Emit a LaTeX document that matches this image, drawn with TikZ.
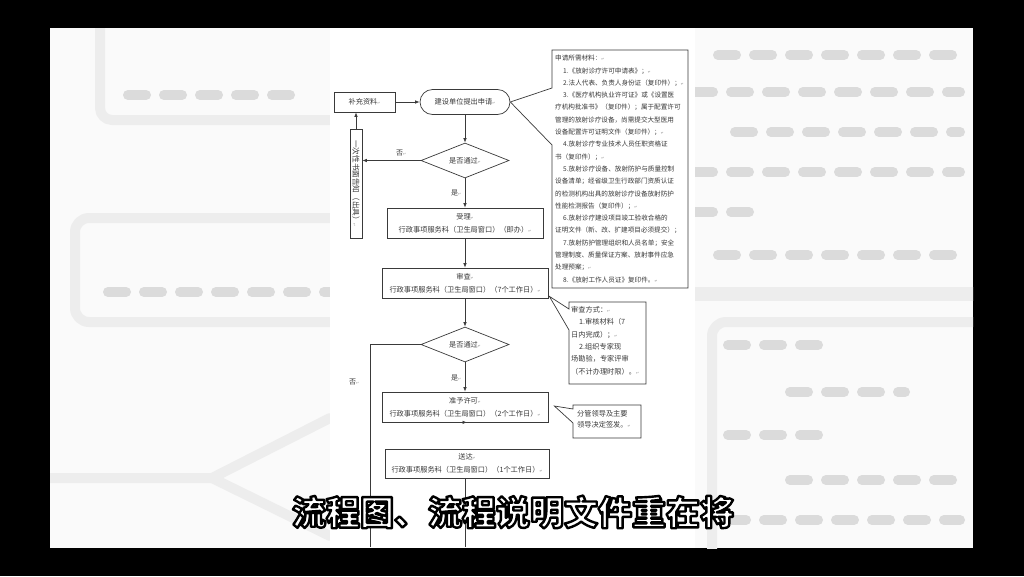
\documentclass[tikz,border=0pt]{standalone}
\usepackage{fontspec}
\usepackage{graphicx}
\newfontfamily\cjk{Noto Sans CJK SC}
\newfontfamily\dvs{DejaVu Sans}
\usetikzlibrary{shapes.geometric,arrows.meta}
\definecolor{ln}{HTML}{3A3A3A}
\definecolor{tx}{HTML}{383838}
\newcommand\pmk{{\dvs\fontsize{3.5}{3.5}\selectfont\textcolor{gray}{↵}}}
\newcommand\ind{\hspace*{8pt}}
\newcommand\outl[1]{\special{pdf:literal direct 2 Tr 2.4 w 0 0 0 RG 1 j}#1\special{pdf:literal direct 0 Tr}}
\begin{document}
\begin{tikzpicture}[x=1pt,y=-1pt,
  box/.style={draw=ln,line width=0.7pt,fill=white,inner sep=0pt,align=center,text=tx,font=\cjk\fontsize{7.2}{13}\selectfont},
  dia/.style={box,diamond,aspect=2.5,minimum width=88pt,minimum height=35pt},
  arr/.style={draw=ln,line width=0.7pt,-{Latex[length=4.5pt,width=3.5pt]}},
  con/.style={draw=ln,line width=0.7pt},
  call/.style={draw=ln,line width=0.7pt,fill=white,line join=miter},
  ctext/.style={inner sep=0pt,align=left,text=tx,anchor=north west},
  lbl/.style={text=tx,font=\cjk\fontsize{7}{8}\selectfont,inner sep=0pt},
  blob/.style={line width=10pt,line cap=round,draw=black!14,dash pattern=on 18pt off 18pt},
  soft/.style={line width=10pt,draw=black!7,line cap=round,line join=round},
  subt/.style={font=\cjk\bfseries\fontsize{34}{34}\selectfont,inner sep=0pt},
]
\useasboundingbox (0,0) rectangle (1024,576);
\fill[black] (0,0) rectangle (1024,576);
\begin{scope}
\clip (50,28) rectangle (973,548);
\fill[black!2] (50,28) rectangle (973,548);

% blurred left side
\draw[soft,rounded corners=12pt] (100,20) -- (100,120) -- (335,120);
\draw[blob] (128,95) -- (305,95);
\draw[soft,rounded corners=14pt] (340,218) -- (75,218) -- (75,322) -- (340,322);
\draw[blob] (108,292) -- (330,292);
\draw[soft] (40,478) -- (212,478) -- (330,418);
\draw[soft] (212,478) -- (330,536);
% blurred right side
\draw[blob] (718,55) -- (960,55);
\draw[blob] (695,92) -- (960,92);
\draw[blob] (735,132) -- (960,132);
\draw[blob] (695,172) -- (960,172);
\draw[blob] (695,212) -- (750,212);
\draw[blob] (718,255) -- (960,255);
\draw[soft,line width=14pt] (690,294) -- (990,294);
\draw[soft,rounded corners=14pt] (712,560) -- (712,322) -- (990,322);
\draw[blob] (728,345) -- (825,345);
\draw[blob] (790,392) -- (905,392);
\draw[blob] (728,435) -- (825,435);
\draw[blob] (790,480) -- (960,480);
\draw[blob] (728,520) -- (960,520);

% page
\fill[white] (330,28) rectangle (695,548);

% main flow nodes
\node[box,minimum width=61pt,minimum height=20pt] (bczl) at (364.5,102) {补充资料\pmk};
\node[box,rectangle,rounded corners=12.5pt,minimum width=90pt,minimum height=25pt] (sq) at (465,102) {建设单位提出申请\pmk};
\node[dia] (d1) at (465,160.5) {是否通过\pmk};
\node[box,minimum width=12pt,minimum height=109pt,font=\cjk\fontsize{7.6}{8}\selectfont] (ycx) at (356,183.5) {\rotatebox{-90}{一次性书面告知（出具）\pmk}};
\node[box,minimum width=156pt,minimum height=30pt] (sl) at (465,223) {受理\pmk\\行政事项服务科（卫生局窗口）（即办）\pmk};
\node[box,minimum width=166pt,minimum height=30pt] (sc) at (465,283) {审查\pmk\\行政事项服务科（卫生局窗口）（7个工作日）\pmk};
\node[dia] (d2) at (465,344.5) {是否通过\pmk};
\node[box,minimum width=166pt,minimum height=30pt] (zy) at (465,407) {准予许可\pmk\\行政事项服务科（卫生局窗口）（2个工作日）\pmk};
\node[box,minimum width=164pt,minimum height=29pt] (sd) at (467,463.5) {送达\pmk\\行政事项服务科（卫生局窗口）（1个工作日）\pmk};

% connectors
\draw[arr] (bczl) -- (sq);
\draw[arr] (sq) -- (d1);
\draw[arr] (d1.west) -- (d1.west -| ycx.east);
\draw[arr] (ycx.north) -- (ycx.north |- bczl.south);
\draw[arr] (d1) -- (sl);
\draw[arr] (sl) -- (sc);
\draw[arr] (sc) -- (d2);
\draw[arr] (d2) -- (zy);
\draw[arr] (zy.south) -- (zy.south -| sd.north) ;
\coordinate (noend) at (370,547);
\draw[con] (d2.west) -| (noend);
\coordinate (sdend) at (465,547);
\draw[con] (sd.south -| sdend) -- (sdend);

\node[lbl] (no1) at (401,153) {否\pmk};
\node[lbl] (yes1) at (456,193) {是\pmk};
\node[lbl] (yes2) at (456,378) {是\pmk};
\node[lbl] (no2) at (354,382) {否\pmk};

% callout 1
\coordinate (t1) at (sq.east);
\draw[call] (552,145) -- (t1) -- (552,88) -- (552,50) -- (688,50) -- (688,288) -- (552,288) -- cycle;
\node[ctext,font=\cjk\fontsize{6.6}{12.3}\selectfont] (c1) at (555,55) {%
申请所需材料：\pmk\\
\ind1.《放射诊疗许可申请表》；\pmk\\
\ind2.法人代表、负责人身份证（复印件）；\pmk\\
\ind3.《医疗机构执业许可证》或《设置医\\
疗机构批准书》（复印件）；属于配置许可\\
管理的放射诊疗设备，尚需提交大型医用\\
设备配置许可证明文件（复印件）；\pmk\\
\ind4.放射诊疗专业技术人员任职资格证\\
书（复印件）；\pmk\\
\ind5.放射诊疗设备、放射防护与质量控制\\
设备清单；经省级卫生行政部门资质认证\\
的检测机构出具的放射诊疗设备放射防护\\
性能检测报告（复印件）；\pmk\\
\ind6.放射诊疗建设项目竣工验收合格的\\
证明文件（新、改、扩建项目必须提交）；\\
\ind7.放射防护管理组织和人员名单；安全\\
管理制度、质量保证方案、放射事件应急\\
处理预案；\pmk\\
\ind8.《放射工作人员证》复印件。\pmk};

% callout 2
\coordinate (t2) at ([xshift=1pt,yshift=2pt]sc.south east);
\draw[call] (569,330) -- (t2) -- (569,309) -- (569,302) -- (646,302) -- (646,384) -- (569,384) -- cycle;
\node[ctext,font=\cjk\fontsize{7.2}{12.4}\selectfont] (c2) at (571,306) {%
审查方式：\pmk\\
\ind1.审核材料（7\\
日内完成）；\pmk\\
\ind2.组织专家现\\
场勘验，专家评审\\
（不计办理时限）。\pmk};

% callout 3
\coordinate (t3) at ([xshift=6pt,yshift=1pt]zy.east);
\draw[call] (573,423) -- (t3) -- (573,409) -- (573,405) -- (641,405) -- (641,438) -- (573,438) -- cycle;
\node[ctext,font=\cjk\fontsize{7.2}{11.5}\selectfont] (c3) at (577,410) {%
分管领导及主要\\
领导决定签发。\pmk};

% subtitle
\node[subt,text=white] (sub) at (513,512) {\outl{流程图、流程说明文件重在将}};
\end{scope}
\end{tikzpicture}
\end{document}
